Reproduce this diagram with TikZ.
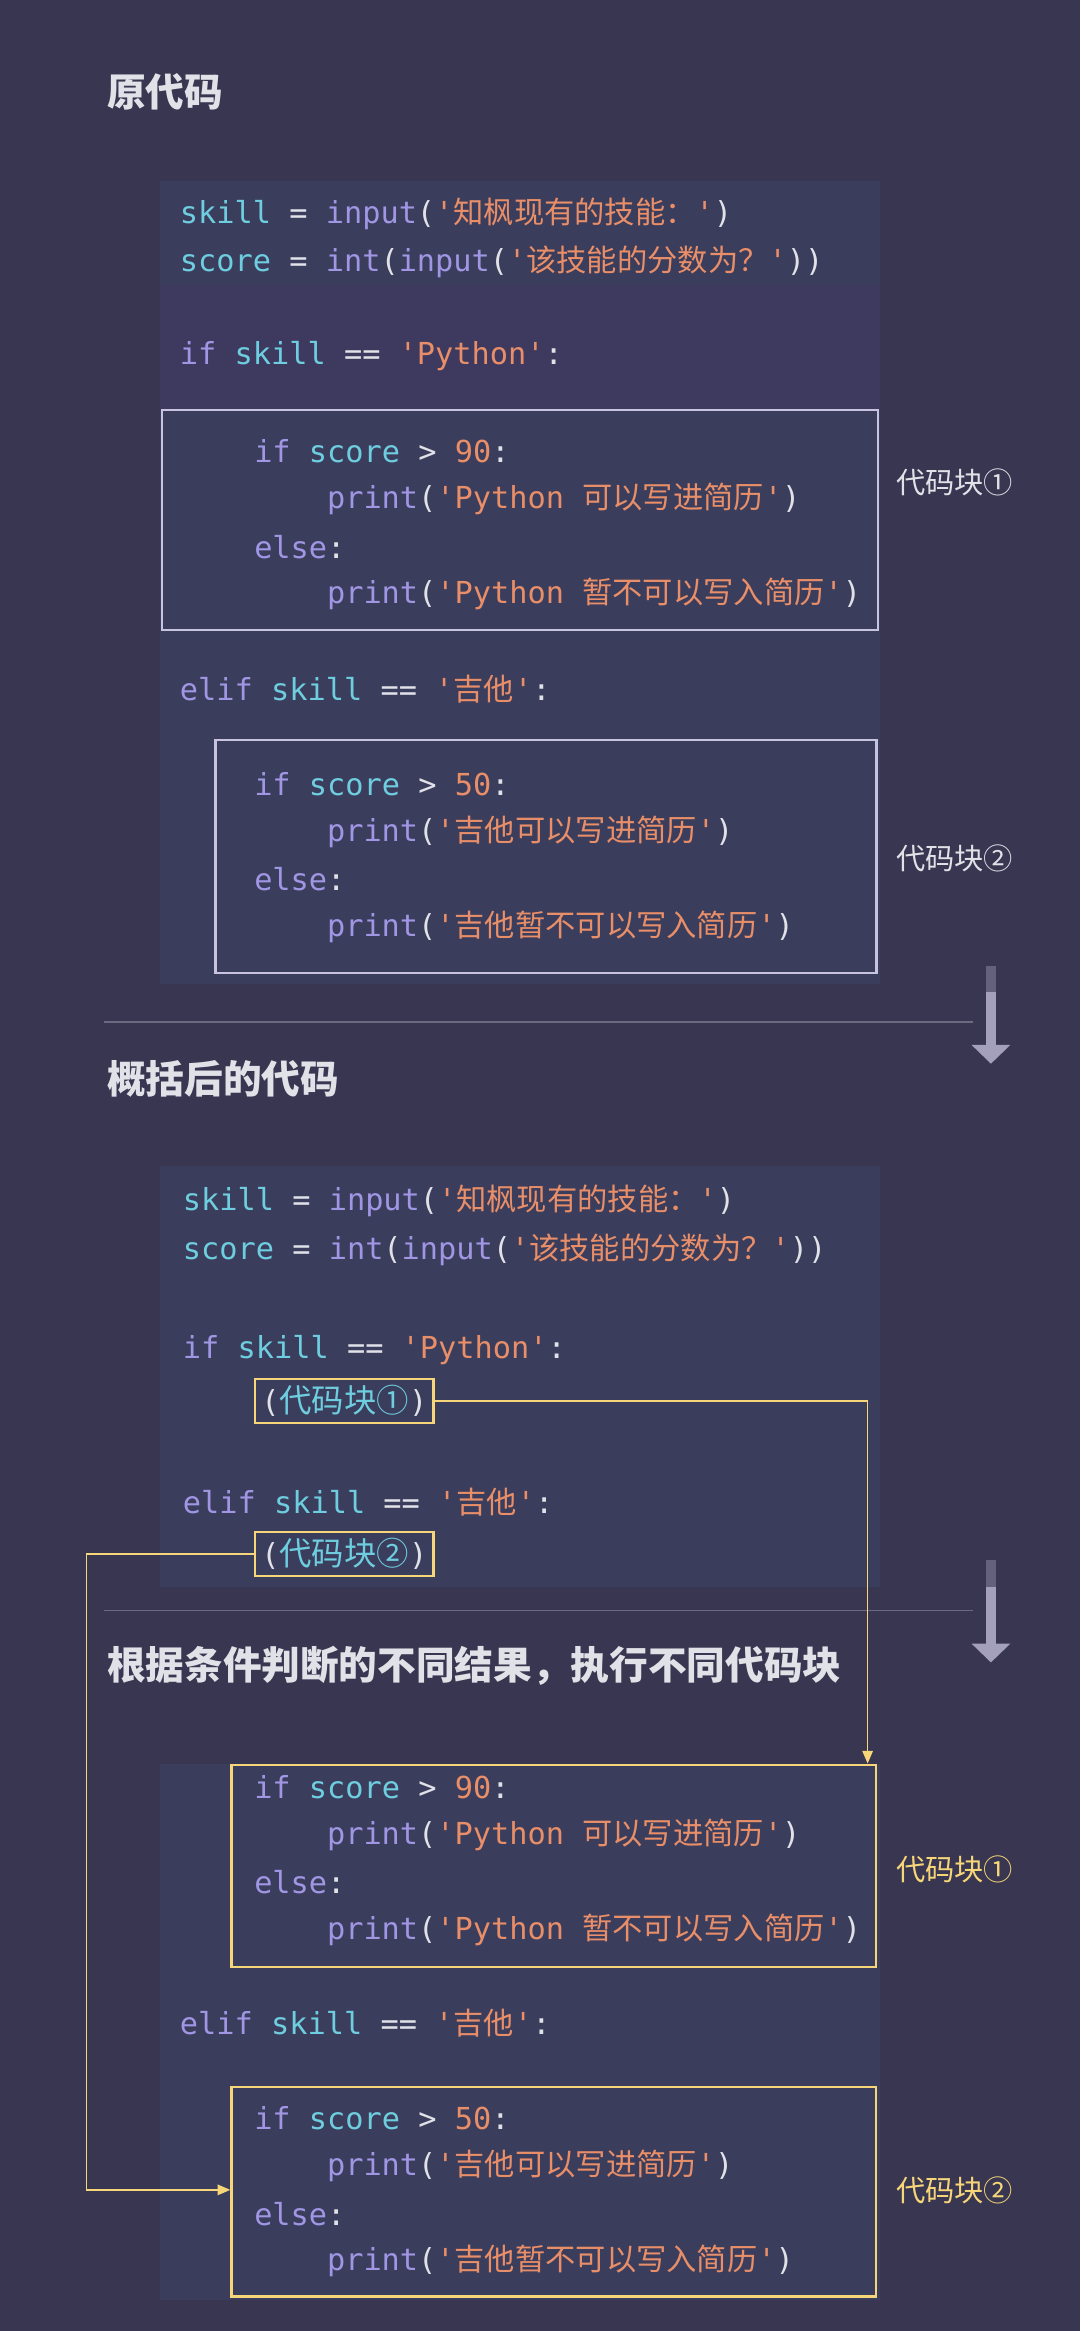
\documentclass[tikz,border=0pt]{standalone}
\usepackage{fontspec}
\setmonofont{DejaVu Sans Mono}
\newfontfamily\cjk{Noto Sans CJK SC}
\usetikzlibrary{arrows.meta}
\definecolor{bg}{RGB}{56,54,80}
\definecolor{panel}{RGB}{59,61,92}
\definecolor{band}{RGB}{62,58,95}
\definecolor{kw}{RGB}{160,150,228}
\definecolor{var}{RGB}{110,205,222}
\definecolor{str}{RGB}{232,142,104}
\definecolor{txt}{RGB}{225,225,232}
\definecolor{lav}{RGB}{200,196,224}
\definecolor{yel}{RGB}{246,214,120}
\definecolor{sep}{RGB}{108,106,128}
\newcommand{\K}[1]{\textcolor{kw}{#1}}
\newcommand{\V}[1]{\textcolor{var}{#1}}
\newcommand{\Sx}[1]{\textcolor{str}{#1}}
\newcommand{\Cj}[1]{{\cjk #1}}
\tikzset{
 code/.style={anchor=west,inner sep=0pt,text=txt,font=\ttfamily\fontsize{29}{32}\selectfont},
 title/.style={anchor=west,inner sep=0pt,text=txt,font=\cjk\bfseries\fontsize{37}{40}\selectfont},
 lbl/.style={anchor=west,inner sep=0pt,font=\cjk\fontsize{28}{30}\selectfont},
 lavbox/.style={draw=lav,line width=2.2pt},
 ybox/.style={draw=yel,line width=2.2pt},
 conn/.style={draw=yel,line width=1.2pt},
 downarrow/.style={line width=9pt,-{Triangle[width=36pt,length=18pt]}},
}
\begin{document}
\begin{tikzpicture}[x=0.05cm,y=-0.05cm]
\fill[bg] (0,0) rectangle (727,1569);
\useasboundingbox (0,0) rectangle (727,1569);
% panels
\fill[panel] (108,122) rectangle (592,662);
\fill[band] (108,192) rectangle (592,275);
\fill[panel] (108,785) rectangle (592,1068);
\fill[panel] (108,1187) rectangle (592,1548);
% titles
\node[title] (t1) at (72,62) {原代码};
\node[title] (t2) at (72,726) {概括后的代码};
\node[title] (t3) at (72,1121) {根据条件判断的不同结果，执行不同代码块};
% separators and arrows
\coordinate (s1a) at (70,688); \coordinate (s1b) at (655,688);
\draw[sep,line width=1.5pt] (s1a) -- (s1b);
\coordinate (s2a) at (70,1084); \coordinate (s2b) at (655,1084);
\draw[sep,line width=1.5pt] (s2a) -- (s2b);
\coordinate (a1a) at (667,650); \coordinate (a1m) at (667,668); \coordinate (a1b) at (667,716);
\draw[line width=9pt,draw=bg!70!lav] (a1a) -- (a1m);
\draw[downarrow,draw=lav!75!bg,fill=lav!75!bg] (a1m) -- (a1b);
\coordinate (a2a) at (667,1050); \coordinate (a2m) at (667,1068); \coordinate (a2b) at (667,1119);
\draw[line width=9pt,draw=bg!70!lav] (a2a) -- (a2m);
\draw[downarrow,draw=lav!75!bg,fill=lav!75!bg] (a2m) -- (a2b);
% panel 1 code
\node[code] (p1l1) at (121,144) {\V{skill} = \K{input}(\Sx{'\Cj{知枫现有的技能：}'})};
\node[code] (p1l2) at (121,176) {\V{score} = \K{int}(\K{input}(\Sx{'\Cj{该技能的分数为？}'}))};
\node[code] (p1l3) at (121,240) {\K{if} \V{skill} == \Sx{'Python'}:};
\node[code] (p1l4) at (171,304) {\K{if} \V{score} > \Sx{90}:};
\node[code] (p1l5) at (220,336) {\K{print}(\Sx{'Python \Cj{可以写进简历}'})};
\node[code] (p1l6) at (171,368) {\K{else}:};
\node[code] (p1l7) at (220,400) {\K{print}(\Sx{'Python \Cj{暂不可以写入简历}'})};
\node[code] (p1l8) at (121,464) {\K{elif} \V{skill} == \Sx{'\Cj{吉他}'}:};
\node[code] (p1l9) at (171,528) {\K{if} \V{score} > \Sx{50}:};
\node[code] (p1l10) at (220,560) {\K{print}(\Sx{'\Cj{吉他可以写进简历}'})};
\node[code] (p1l11) at (171,592) {\K{else}:};
\node[code] (p1l12) at (220,624) {\K{print}(\Sx{'\Cj{吉他暂不可以写入简历}'})};
\draw[lavbox] (109,276) rectangle (591,424);
\draw[lavbox] (145,498) rectangle (590,655);
\node[lbl,text=txt] (L1) at (603,325) {代码块①};
\node[lbl,text=txt] (L2) at (603,578) {代码块②};
% panel 2 code
\node[code] (p2l1) at (123,808) {\V{skill} = \K{input}(\Sx{'\Cj{知枫现有的技能：}'})};
\node[code] (p2l2) at (123,841) {\V{score} = \K{int}(\K{input}(\Sx{'\Cj{该技能的分数为？}'}))};
\node[code] (p2l3) at (123,909) {\K{if} \V{skill} == \Sx{'Python'}:};
\node[code] (p2l5) at (123,1011) {\K{elif} \V{skill} == \Sx{'\Cj{吉他}'}:};
\node[code,ybox,inner sep=1pt,minimum width=120*0.05cm,minimum height=30*0.05cm] (b1) at (171,943) {(\V{\Cj{\fontsize{31}{32}\selectfont 代码块①}})};
\node[code,ybox,inner sep=1pt,minimum width=120*0.05cm,minimum height=30*0.05cm] (b2) at (171,1046) {(\V{\Cj{\fontsize{31}{32}\selectfont 代码块②}})};
% panel 3 code
\node[code] (p3l1) at (171,1203) {\K{if} \V{score} > \Sx{90}:};
\node[code] (p3l2) at (220,1235) {\K{print}(\Sx{'Python \Cj{可以写进简历}'})};
\node[code] (p3l3) at (171,1267) {\K{else}:};
\node[code] (p3l4) at (220,1299) {\K{print}(\Sx{'Python \Cj{暂不可以写入简历}'})};
\node[code] (p3l5) at (121,1362) {\K{elif} \V{skill} == \Sx{'\Cj{吉他}'}:};
\node[code] (p3l6) at (171,1426) {\K{if} \V{score} > \Sx{50}:};
\node[code] (p3l7) at (220,1458) {\K{print}(\Sx{'\Cj{吉他可以写进简历}'})};
\node[code] (p3l8) at (171,1490) {\K{else}:};
\node[code] (p3l9) at (220,1522) {\K{print}(\Sx{'\Cj{吉他暂不可以写入简历}'})};
\node[ybox,inner sep=0pt,minimum width=434*0.05cm,minimum height=136*0.05cm,anchor=north west] (B3) at (155,1187) {};
\node[ybox,inner sep=0pt,minimum width=434*0.05cm,minimum height=141*0.05cm,anchor=north west] (B4) at (155,1404) {};
\node[lbl,text=yel] (L3) at (603,1258) {代码块①};
\node[lbl,text=yel] (L4) at (603,1474) {代码块②};
% connectors
\coordinate (c1) at (584,943);
\coordinate (c1e) at (584,1187);
\draw[conn,-{Triangle[width=10pt,length=12pt]}] (b1.east) -- (c1) -- (c1e);
\coordinate (c2a) at (58,1046);
\coordinate (c2b) at (58,1474);
\draw[conn,-{Triangle[width=10pt,length=12pt]}] (b2.west) -- (c2a) -- (c2b) -- (B4.west |- c2b);
\end{tikzpicture}
\end{document}
